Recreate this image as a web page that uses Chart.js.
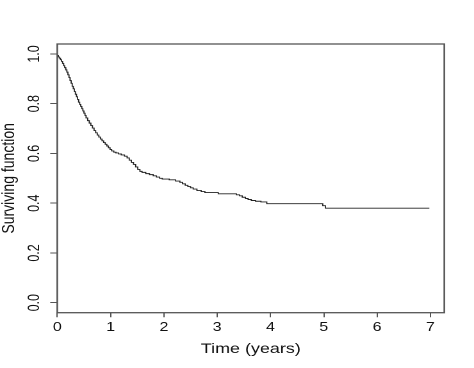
<!DOCTYPE html>
<html>
<head>
<meta charset="utf-8">
<script src="https://cdn.jsdelivr.net/npm/chart.js@4.4.1/dist/chart.umd.min.js"></script>
<style>
  html, body { margin: 0; padding: 0; background: #fff; overflow: hidden; }
  /* the original picture is stretched sideways, so the whole canvas is too */
  #wrap { width: 370px; height: 368px; transform: scaleX(1.2811); transform-origin: 0 0; }
</style>
</head>
<body>
<div id="wrap"><canvas id="survPlot" width="370" height="368"></canvas></div>
<script>
// Kaplan-Meier steps (time in years, survival after the step)
const times = [0.00, 0.02, 0.04, 0.06, 0.08, 0.10, 0.12, 0.14, 0.16, 0.18, 0.20, 0.22, 0.24, 0.26,
  0.28, 0.30, 0.32, 0.34, 0.36, 0.38, 0.40, 0.42, 0.44, 0.46, 0.48, 0.50, 0.52, 0.54, 0.57, 0.60,
  0.63, 0.66, 0.69, 0.72, 0.75, 0.78, 0.81, 0.84, 0.87, 0.90, 0.93, 0.96, 0.99, 1.02, 1.06, 1.10,
  1.15, 1.20, 1.26, 1.31, 1.35, 1.39, 1.43, 1.47, 1.51, 1.55, 1.59, 1.66, 1.73, 1.80, 1.86, 1.92,
  1.97, 2.10, 2.22, 2.30, 2.35, 2.40, 2.45, 2.50, 2.55, 2.62, 2.70, 2.77, 3.02, 3.36, 3.42, 3.47,
  3.53, 3.58, 3.64, 3.72, 3.82, 3.93, 4.98, 5.03, 5.07, 6.98];
const survival = [1.000, 0.994, 0.988, 0.983, 0.977, 0.970, 0.962, 0.953, 0.945, 0.936, 0.927, 0.916, 0.905, 0.893,
  0.882, 0.870, 0.860, 0.849, 0.838, 0.828, 0.817, 0.806, 0.797, 0.789, 0.780, 0.771, 0.762, 0.753, 0.743, 0.732,
  0.722, 0.712, 0.702, 0.692, 0.683, 0.674, 0.666, 0.658, 0.651, 0.644, 0.637, 0.630, 0.623, 0.616, 0.610, 0.605,
  0.602, 0.598, 0.594, 0.589, 0.582, 0.573, 0.564, 0.556, 0.546, 0.536, 0.528, 0.524, 0.519, 0.515, 0.510, 0.505,
  0.500, 0.497, 0.494, 0.489, 0.484, 0.478, 0.472, 0.467, 0.462, 0.457, 0.451, 0.447, 0.443, 0.438, 0.434, 0.430,
  0.424, 0.419, 0.415, 0.411, 0.408, 0.405, 0.398, 0.390, 0.380, 0.380];

const xTicks = [0, 1, 2, 3, 4, 5, 6, 7];
const yTicks = [0, 0.2, 0.4, 0.6, 0.8, 1.0];
const yTickLabels = ['0.0', '0.2', '0.4', '0.6', '0.8', '1.0'];
const xTitle = 'Time (years)';
const yTitle = 'Surviving function';

const FONT = "'Liberation Sans', Arial, Helvetica, sans-serif";
const AXIS_COLOR = '#555';

// box round the plot region + rotated y tick labels (R style)
const rPlotPlugin = {
  id: 'rPlot',
  afterDraw(chart) {
    const ctx = chart.ctx;
    const a = chart.chartArea;
    ctx.save();
    ctx.strokeStyle = AXIS_COLOR;
    ctx.lineWidth = 1.3;
    ctx.strokeRect(a.left, a.top, a.right - a.left, a.bottom - a.top);

    const yScale = chart.scales.y;
    ctx.fillStyle = '#111';
    ctx.font = '12.5px ' + FONT;
    ctx.textAlign = 'center';
    ctx.textBaseline = 'middle';
    yTicks.forEach((v, i) => {
      ctx.save();
      ctx.translate(27.1, yScale.getPixelForValue(v));
      ctx.rotate(-Math.PI / 2);
      ctx.fillText(yTickLabels[i], 0, 0);
      ctx.restore();
    });
    ctx.restore();
  }
};

window.onload = function() {
  const ctx = document.getElementById('survPlot').getContext('2d');
  const points = times.map((t, i) => ({x: t, y: survival[i]}));

  new Chart(ctx, {
    type: 'line',
    data: {
      datasets: [{
        data: points,
        borderColor: '#222',
        borderWidth: 0.9,
        stepped: 'after',
        pointRadius: 0,
        fill: false
      }]
    },
    options: {
      responsive: false,
      devicePixelRatio: 2,
      animation: false,
      layout: { padding: { top: 44, right: 23.2, left: 0, bottom: 0 } },
      plugins: {
        legend: { display: false },
        tooltip: { enabled: false }
      },
      scales: {
        x: {
          type: 'linear',
          min: 0,
          max: 7.26,
          afterBuildTicks: scale => { scale.ticks = xTicks.map(v => ({value: v})); },
          afterFit: scale => { scale.height = 55.3; },
          border: { display: false },
          grid: { drawOnChartArea: false, drawTicks: true, tickLength: 4.5, color: AXIS_COLOR, lineWidth: 1 },
          ticks: {
            color: '#111',
            padding: 3,
            maxRotation: 0,
            font: { family: FONT, size: 12.5 },
            callback: v => String(v)
          },
          title: {
            display: true,
            text: xTitle,
            color: '#111',
            font: { family: FONT, size: 14, lineHeight: 1 },
            padding: { top: 0, bottom: 11.7 }
          }
        },
        y: {
          type: 'linear',
          min: -0.04,
          max: 1.04,
          afterBuildTicks: scale => { scale.ticks = yTicks.map(v => ({value: v})); },
          afterFit: scale => { scale.width = 44.7; },
          border: { display: false },
          grid: { drawOnChartArea: false, drawTicks: true, tickLength: 5.5, color: AXIS_COLOR, lineWidth: 1 },
          ticks: { display: false },
          title: {
            display: true,
            text: yTitle,
            color: '#111',
            font: { family: FONT, size: 14, lineHeight: 1 },
            padding: { top: 0, bottom: 0 }
          }
        }
      }
    },
    plugins: [rPlotPlugin]
  });
};
</script>
</body>
</html>
